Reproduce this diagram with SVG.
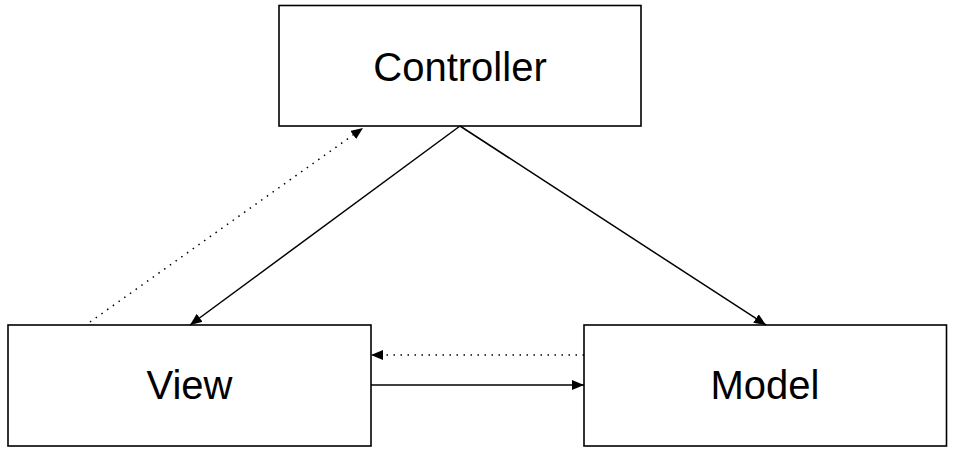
<svg xmlns="http://www.w3.org/2000/svg" width="958" height="462" viewBox="0 0 958 462">
<style>
.box{fill:#fff;stroke:#000;stroke-width:1.6}
.lbl{font-family:"Liberation Sans",Arial,sans-serif;font-size:40px;text-anchor:middle;fill:#000}
.c{stroke:#000;stroke-width:1.5;fill:none}
.d{stroke:#000;stroke-width:1.5;fill:none;stroke-dasharray:1.5 5.5}
</style>
<defs>
<marker id="ah" markerWidth="12" markerHeight="10" refX="12" refY="5" orient="auto" markerUnits="userSpaceOnUse">
<path d="M0,0 L12,5 L0,10 Z" fill="#000"/>
</marker>
</defs>
<rect width="958" height="462" fill="#fff"/>
<g id="controller"><rect class="box" x="279" y="5.5" width="362" height="120.5"/><text class="lbl" x="460" y="81">Controller</text></g>
<g id="view"><rect class="box" x="8" y="325" width="363" height="121"/><text class="lbl" x="189.5" y="399">View</text></g>
<g id="model"><rect class="box" x="584" y="325" width="362.5" height="121"/><text class="lbl" x="765" y="399">Model</text></g>
<g id="connectors">
<line class="c" x1="460" y1="126" x2="190" y2="325" marker-end="url(#ah)"/>
<line class="c" x1="460" y1="126" x2="766" y2="325" marker-end="url(#ah)"/>
<line class="d" x1="90" y1="322" x2="363" y2="128" marker-end="url(#ah)"/>
<line class="d" x1="584" y1="355" x2="371" y2="355" marker-end="url(#ah)"/>
<line class="c" x1="371" y1="385" x2="584" y2="385" marker-end="url(#ah)"/>
</g>
</svg>
